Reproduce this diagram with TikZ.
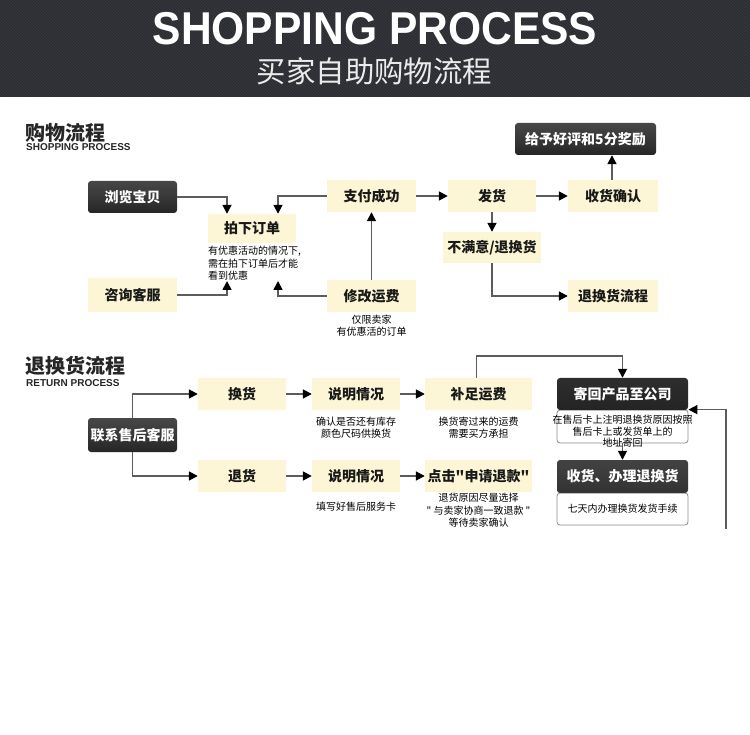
\documentclass[tikz,border=0pt]{standalone}
\usepackage{fontspec}
\setmainfont{Noto Sans CJK SC}
\newfontfamily\cjkq{Noto Sans CJK SC}
\newfontfamily\lat{Liberation Sans}
\usetikzlibrary{arrows.meta}
\definecolor{cream}{HTML}{FCF6D6}
\definecolor{linegray}{HTML}{5C5C5C}
\definecolor{bandbase}{HTML}{2A2C30}
\definecolor{bandstripe}{HTML}{35383D}
\tikzset{
  ybox/.style={fill=cream, minimum width=89pt, minimum height=32pt, inner sep=0pt,
    font=\fontsize{14}{16}\selectfont\bfseries, text=black!90},
  dbox/.style={rounded corners=3pt, top color=black!72, bottom color=black!85,
    minimum width=89pt, minimum height=32pt, inner sep=0pt,
    font=\fontsize{14}{16}\selectfont\bfseries, text=white},
  wbox/.style={draw=black!45, line width=0.8pt, fill=white, rounded corners=3pt,
    minimum width=131pt, minimum height=33pt, inner sep=0pt},
  note/.style={inner sep=0pt, align=center, font=\fontsize{10}{12}\selectfont, text=black},
  conn/.style={draw=linegray, line width=1.7pt, -{Triangle[length=9pt,width=9pt,color=black]}},
  sectitle/.style={anchor=base west, inner sep=0pt, font=\fontsize{20}{22}\selectfont\bfseries, text=black!85},
  secsub/.style={anchor=base west, inner sep=0pt, font=\lat\fontsize{10}{12}\selectfont\bfseries, text=black!85}
}
\begin{document}
\begin{tikzpicture}[x=1pt,y=-1pt]
\useasboundingbox (0,0) rectangle (750,735);
\fill[white] (0,0) rectangle (750,735);
% header band
\begin{scope}
\clip (0,0) rectangle (750,97);
\fill[bandbase] (0,0) rectangle (750,97);
\foreach \i in {-100,-97,...,750} \draw[bandstripe, line width=0.9pt] (\i,0) -- (\i+97,97);
\end{scope}
\node[anchor=base, inner sep=0pt, text=white, font=\lat\fontsize{46}{50}\selectfont\bfseries] (htitle) at (375,45) {\scalebox{0.925}[1]{SHOPPING PROCESS}};
\node[anchor=base, inner sep=0pt, text=white!92!black, font=\fontsize{29.4}{32}\selectfont] (hsub) at (374.5,83) {买家自助购物流程};

% section titles
\node[sectitle] (t1) at (25,140.5) {购物流程};
\node[secsub] (t1e) at (26,151) {SHOPPING PROCESS};
\node[sectitle] (t2) at (25,373.5) {退换货流程};
\node[secsub] (t2e) at (26,386) {RETURN PROCESS};

% ---- shopping process ----
\node[dbox] (b1) at (132.5,197) {浏览宝贝};
\node[ybox, minimum height=34pt] (consult) at (132.5,295) {咨询客服};
\node[ybox, minimum width=88pt, minimum height=29pt] (order) at (252,228.5) {拍下订单};
\node[note, align=left, anchor=north west, font=\fontsize{10}{12.5}\selectfont] (ordernote) at (208,246) {有优惠活动的情况下,\\需在拍下订单后才能\\看到优惠};
\coordinate (obl) at (227,281);
\coordinate (obr) at (278,281);
\node[ybox] (pay) at (371.5,196) {支付成功};
\node[ybox] (fix) at (371.5,296) {修改运费};
\node[note, anchor=north] (fixnote) at (371.5,315) {仅限卖家\\有优惠活的订单};
\node[ybox, minimum width=88pt] (ship) at (492,196) {发货};
\node[ybox, minimum width=90pt] (confirm) at (613,196) {收货确认};
\node[dbox, minimum width=141pt] (reward) at (585.5,139) {给予好评和5分奖励};
\node[ybox, minimum width=98pt, minimum height=31pt] (unhappy) at (492,247.5) {不满意/退换货};
\node[ybox, minimum width=90pt] (retflow) at (613,296) {退换货流程};

\draw[conn] (b1.east) -| ([xshift=-25pt]order.north);
\draw[conn] (pay.west) -| ([xshift=26pt]order.north);
\draw[conn] (consult.east) -| (obl);
\draw[conn] (fix.west) -| (obr);
\draw[conn] (fix.north) -- (pay.south);
\draw[conn] (pay.east) -- (ship.west);
\draw[conn] (ship.east) -- (confirm.west);
\draw[conn] ([xshift=-1pt]confirm.north) -- ([xshift=-1pt]confirm.north |- reward.south);
\draw[conn] (ship.south) -- (unhappy.north);
\draw[conn] (unhappy.south) |- (retflow.west);

% ---- return process ----
\node[dbox, minimum height=34pt] (contact) at (132.5,435) {联系售后客服};
\node[ybox, minimum width=88pt] (swap) at (242,394) {换货};
\node[ybox, minimum width=88pt] (refund) at (242,476) {退货};
\node[ybox, minimum width=88pt] (exp1) at (356,394) {说明情况};
\node[ybox, minimum width=88pt] (exp2) at (356,476) {说明情况};
\node[ybox, minimum width=107pt] (freight) at (478.5,394) {补足运费};
\node[ybox, minimum width=107pt, font=\cjkq\fontsize{14}{16}\selectfont\bfseries] (click) at (478.5,476) {点击"申请退款"};
\node[note] (exp1note) at (356,427.5) {确认是否还有库存\\颜色尺码供换货};
\node[note] (freightnote) at (478.5,427.5) {换货寄过来的运费\\需要买方承担};
\node[note] (exp2note) at (356,507) {填写好售后服务卡};

\node[wbox] (retnote) at (622.5,426.5) {};
\node[dbox, minimum width=131pt, top color=black!82, bottom color=black!86] (retbox) at (622.5,394) {寄回产品至公司};
\node[note, font=\fontsize{10}{11.5}\selectfont] (retnotetext) at (622.5,431.5) {在售后卡上注明退换货原因按照\\售后卡上或发货单上的\\地址寄回};
\node[wbox, minimum height=32pt] (procnote) at (622.5,509) {};
\node[dbox, minimum width=131pt, minimum height=33pt, top color=black!74, bottom color=black!80] (proc) at (622.5,476.5) {收货、办理退换货};
\node[note] (proctext) at (622.5,508.5) {七天内办理换货发货手续};

\draw[conn] (contact.north) |- (swap.west);
\draw[conn] (contact.south) |- (refund.west);
\draw[conn] (swap.east) -- (exp1.west);
\draw[conn] (exp1.east) -- (freight.west);
\draw[conn] (refund.east) -- (exp2.west);
\draw[conn] (exp2.east) -- (click.west);
\draw[conn] ([xshift=-2pt]freight.north) -- ++(0,-22) -| (retbox.north);
\draw[conn] (retnote.south) -- (proc.north);

\begin{scope}
\clip (0,0) rectangle (750,528);
\coordinate (loopbot) at (726,535);
\draw[conn] (loopbot) |- (retnote.north east);
\node[note, font=\cjkq\fontsize{10}{12.5}\selectfont] (clicknote) at (478.5,510.5) {退货原因尽量选择\\" 与卖家协商一致退款 "\\等待卖家确认};
\end{scope}
\end{tikzpicture}
\end{document}
